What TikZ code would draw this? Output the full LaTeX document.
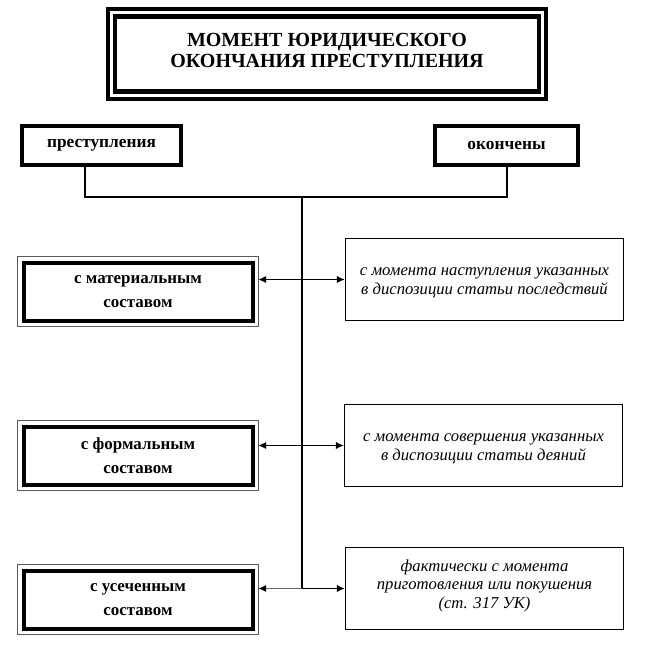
\documentclass[tikz,border=0pt]{standalone}
\usepackage{fontspec}
\setmainfont{Liberation Serif}
\usetikzlibrary{arrows.meta}
\tikzset{
	headbox/.style={draw, line width=3.4pt, outer sep=5.6pt, inner sep=0pt, minimum width=318pt, minimum height=56.6pt, align=center, font=\fontsize{15}{15.75}\selectfont\bfseries, execute at end node={\rule[-6pt]{0pt}{6pt}}},
	topbox/.style={draw, line width=3pt, inner sep=0pt, minimum width=119.25pt, minimum height=29.25pt, font=\fontsize{13}{15}\selectfont\bfseries},
	kindbox/.style={draw, line width=3pt, outer sep=4.3pt, inner sep=0pt, minimum width=171.75pt, minimum height=43.5pt, align=center, font=\fontsize{12.7}{18}\selectfont\bfseries},
	notebox/.style={draw, line width=1pt, inner sep=0pt, minimum width=208.5pt, minimum height=61.5pt, align=center, font=\fontsize{12.5}{13.9}\selectfont\itshape},
	notelow/.style={text height=22pt, text depth=0pt},
	notehigh/.style={execute at end node={\rule[-6.5pt]{0pt}{6.5pt}}},
	link/.style={line width=0.9pt},
	>={Latex[length=6pt, width=5.5pt, color=black]}
}
\begin{document}
\begin{tikzpicture}[x=0.75pt, y=-0.75pt]
	%%%%% START %%%%%
	\useasboundingbox (0,0) rectangle (645,657);
	
	\node[headbox] (title) at (327,54) {МОМЕНТ ЮРИДИЧЕСКОГО\\ОКОНЧАНИЯ ПРЕСТУПЛЕНИЯ};
	\draw[line width=3pt] (title.north west) rectangle (title.south east);
	
	\node[topbox] (prest) at (101.5,145.5) {преступления};
	\node[topbox, minimum width=107.25pt] (okon) at (506.5,145.5) {окончены};
	
	\node[kindbox] (mat) at (138,291.5) {с материальным\\составом};
	\node[kindbox] (form) at (138,455.5) {с формальным\\составом};
	\node[kindbox] (usech) at (138,599.5) {с усеченным\\составом};
	\foreach \k in {mat,form,usech}
		\draw[line width=0.9pt, black!65] (\k.north west) rectangle (\k.south east);
	
	\node[notebox, notelow] (r1) at (484.5,279.5) {с момента наступления указанных\\в диспозиции статьи последствий};
	\node[notebox, notelow] (r2) at (483.5,445.5) {с момента совершения указанных\\в диспозиции статьи деяний};
	\node[notebox, notehigh] (r3) at (484.5,588.5) {фактически с момента\\приготовления или покушения\\(ст. 317 УК)};
	
	\coordinate (jl) at (85,197);
	\coordinate (jr) at (507,197);
	\coordinate (jm) at (302,197);
	\draw[link] (prest.south -| jl) -- (jl) -- (jr) -- (okon.south -| jr);
	\draw[link] (jm) -- (jm |- r3);
	
	\draw[link, <->] (mat.east |- r1) -- (r1.west);
	\draw[link, <->] (form.east |- r2) -- (r2.west);
	\draw[link, black!60, ->] (jm |- r3) -- (usech.east |- r3);
	\draw[link, ->] (jm |- r3) -- (r3.west);
	
	%%%%% END %%%%%
\end{tikzpicture}
\end{document}
